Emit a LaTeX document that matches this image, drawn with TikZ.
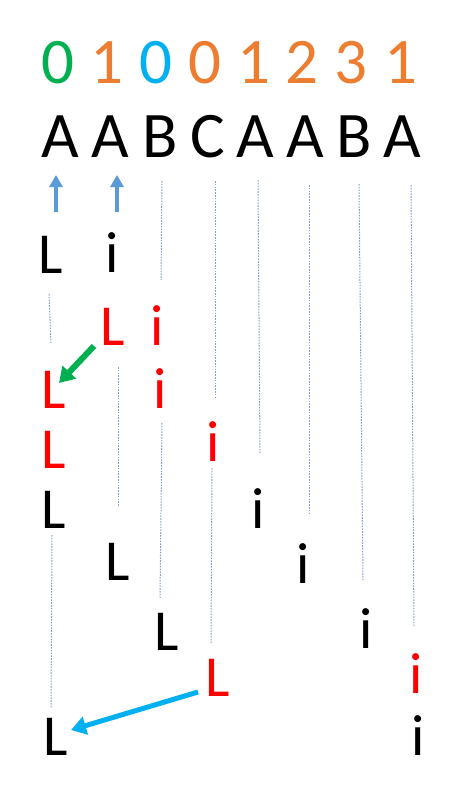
\documentclass[tikz,border=0pt]{standalone}
\usepackage{fontspec}
\setmainfont{Carlito}
\usetikzlibrary{arrows.meta}
\definecolor{cgreen}{HTML}{00B050}
\definecolor{corange}{HTML}{ED7D31}
\definecolor{ccyan}{HTML}{00B0F0}
\definecolor{cred}{HTML}{FF0000}
\definecolor{cblue}{HTML}{5B9BD5}
\definecolor{guidec}{HTML}{7F9FCF}
\begin{document}
\begin{tikzpicture}[x=1pt,y=-1pt,
  big/.style={font=\fontsize{65}{65}\selectfont, inner sep=0pt, anchor=base},
  lt/.style={font=\fontsize{58}{58}\selectfont, inner sep=0pt, anchor=base},
  guide/.style={draw=guidec, line width=1pt, dash pattern=on 1.6pt off 1.2pt},
  uparrow/.style={draw=cblue, line width=4pt, -{Triangle[width=13pt,length=12pt]}},
  fatarrow/.style={line width=6pt, -{Triangle[width=18pt,length=15pt]}}]
\useasboundingbox (0,0) rectangle (474,808);
% numbers
\node[big, text=cgreen]  (n1) at (58,83)  {0};
\node[big, text=corange] (n2) at (107,83) {1};
\node[big, text=ccyan]   (n3) at (156,83) {0};
\node[big, text=corange] (n4) at (205,83) {0};
\node[big, text=corange] (n5) at (254,83) {1};
\node[big, text=corange] (n6) at (302,83) {2};
\node[big, text=corange] (n7) at (351,83) {3};
\node[big, text=corange] (n8) at (401,83) {1};
% letters
\node[big] (a1) at (60,157)  {A};
\node[big] (a2) at (110,157) {A};
\node[big] (a3) at (160,157) {B};
\node[big] (a4) at (208,157) {C};
\node[big] (a5) at (255,157) {A};
\node[big] (a6) at (305,157) {A};
\node[big] (a7) at (354,157) {B};
\node[big] (a8) at (402,157) {A};
% up arrows
\coordinate (u1t) at (56,212); \coordinate (u1h) at (56,175);
\coordinate (u2t) at (117,212); \coordinate (u2h) at (117,175);
\draw[uparrow] (u1t) -- (u1h);
\draw[uparrow] (u2t) -- (u2h);
% rows of L and i
\node[lt] (L1) at (51,273) {L};
\node[lt] (i1) at (112,272) {i};
\node[lt, text=cred] (L2) at (113,345) {L};
\node[lt, text=cred] (i2) at (157,345) {i};
\node[lt, text=cred] (L3) at (54,408) {L};
\node[lt, text=cred] (i3) at (160,408) {i};
\node[lt, text=cred] (L4) at (54,468) {L};
\node[lt, text=cred] (i4) at (213,461) {i};
\node[lt] (L5) at (54,528) {L};
\node[lt] (i5) at (258,528) {i};
\node[lt] (L6) at (118,580) {L};
\node[lt] (i6) at (303,583) {i};
\node[lt] (L7) at (167,650) {L};
\node[lt] (i7) at (366,648) {i};
\node[lt, text=cred] (L8) at (218,696) {L};
\node[lt, text=cred] (i8) at (416,693) {i};
\node[lt] (L9) at (56,755) {L};
\node[lt] (i9) at (418,755) {i};
% guide lines
\coordinate (g1a) at (162,181); \coordinate (g1b) at (161,280);
\coordinate (g2a) at (215,181); \coordinate (g2b) at (215,398);
\coordinate (g3a) at (258,180); \coordinate (g3b) at (260,453);
\coordinate (g4a) at (309,185); \coordinate (g4b) at (309,515);
\coordinate (g5a) at (359,184); \coordinate (g5b) at (363,580);
\coordinate (g6a) at (411,185); \coordinate (g6b) at (414,627);
\coordinate (g7a) at (49,294);  \coordinate (g7b) at (51,343);
\coordinate (g8a) at (118,367); \coordinate (g8b) at (118,507);
\coordinate (g9a) at (162,423); \coordinate (g9b) at (160,598);
\coordinate (g10a) at (212,468); \coordinate (g10b) at (211,643);
\coordinate (g11a) at (52,535); \coordinate (g11b) at (51,708);
\foreach \k in {1,...,11} {\draw[guide] (g\k a) -- (g\k b);}
% jump arrows
\coordinate (gt) at (94,346); \coordinate (gh) at (59,383);
\draw[fatarrow, draw=cgreen] (gt) -- (gh);
\coordinate (ct) at (198,692); \coordinate (ch) at (71,730);
\draw[fatarrow, draw=ccyan, line width=5pt] (ct) -- (ch);
\end{tikzpicture}
\end{document}
